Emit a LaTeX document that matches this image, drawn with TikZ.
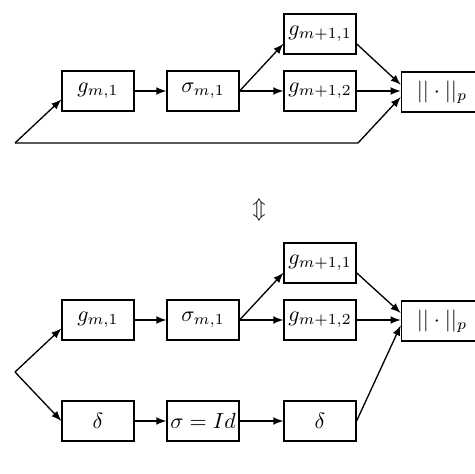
\documentclass[tikz,border=0pt]{standalone}
\begin{document}
\begin{tikzpicture}[x=0.016cm,y=-0.016cm,>=latex,semithick,
  blk/.style={draw, minimum width=1.15cm, minimum height=0.64cm, inner sep=1pt}]
\useasboundingbox (0,0) rectangle (474,474);
% upper scheme
\node[blk] (g) at (98,91) {$g_{m,1}$};
\node[blk] (sig) at (203,91) {$\sigma_{m,1}$};
\node[blk] (ga) at (320,34) {$g_{m+1,1}$};
\node[blk] (gb) at (320,91) {$g_{m+1,2}$};
\node[blk, minimum width=1.3cm] (nrm) at (442,92) {$||\cdot||_p$};
\coordinate (in) at (15,143);
\coordinate (bend) at (358,143);
\draw[->] (in) -- (g.193);
\draw[->] (g) -- (sig);
\draw[->] (sig.east) -- (ga.195);
\draw[->] (sig.east) -- (gb.west);
\draw[->] (ga.345) -- (nrm.170);
\draw[->] (gb.east) -- (gb.east -| nrm.west);
\draw[->] (in) -- (bend) -- (nrm.187);
\node (eq) at (259,210) {$\Updownarrow$};
% lower scheme
\node[blk] (g2) at (98,320) {$g_{m,1}$};
\node[blk] (sig2) at (203,320) {$\sigma_{m,1}$};
\node[blk] (ga2) at (320,263) {$g_{m+1,1}$};
\node[blk] (gb2) at (320,320) {$g_{m+1,2}$};
\node[blk, minimum width=1.3cm] (nrm2) at (442,321) {$||\cdot||_p$};
\node[blk] (d) at (98,421) {$\delta$};
\node[blk] (id) at (203,421) {$\sigma=Id$};
\node[blk] (d2) at (320,421) {$\delta$};
\coordinate (in2) at (15,372);
\draw[->] (in2) -- (g2.193);
\draw[->] (in2) -- (d.west);
\draw[->] (g2) -- (sig2);
\draw[->] (sig2.east) -- (ga2.195);
\draw[->] (sig2.east) -- (gb2.west);
\draw[->] (ga2.345) -- (nrm2.169);
\draw[->] (gb2.east) -- (gb2.east -| nrm2.west);
\draw[->] (d) -- (id);
\draw[->] (id) -- (d2);
\draw[->] (d2.east) -- (nrm2.186);
\end{tikzpicture}
\end{document}
